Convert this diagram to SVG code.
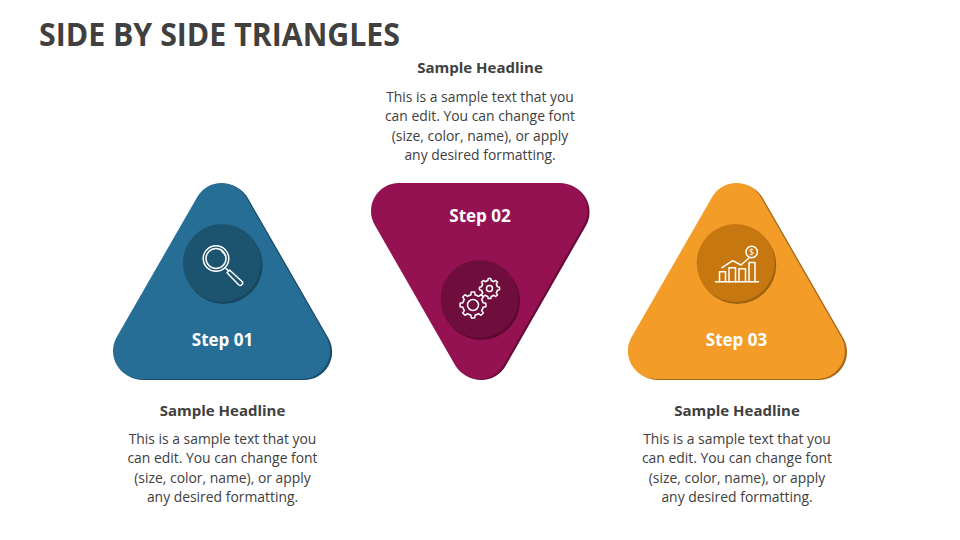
<svg xmlns="http://www.w3.org/2000/svg" xmlns:xlink="http://www.w3.org/1999/xlink" width="960" height="540" viewBox="0 0 960 540">
<style>
text{font-family:"Open Sans","Liberation Sans",sans-serif;text-anchor:middle;fill:#404040}
.title{font-size:32px;font-weight:700;text-anchor:start}
.head{font-size:15px;font-weight:700}
.body{font-size:13.9px}
.step{font-size:17px;font-weight:700;fill:#fff}
.ic{fill:none;stroke:#fff;stroke-width:1.5;stroke-linejoin:round;stroke-linecap:round}
</style>
<defs>
<path id="up" d="M-80.500,379A28,28 0 0 1 -104.750,337L-24.250,197A28,28 0 0 1 24.250,197L104.750,337A28,28 0 0 1 80.500,379Z"/>
<path id="down" d="M-80.250,183A28,28 0 0 0 -104.500,225L-24.250,365A28,28 0 0 0 24.250,365L104.500,225A28,28 0 0 0 80.250,183Z"/>
<path id="tooth" d="M-3.94,-9.52L-2.14,-10.07L-1.7,-12.89L1.7,-12.89L2.14,-10.07L3.94,-9.52"/>
<g id="gear">
<use xlink:href="#tooth"/>
<use xlink:href="#tooth" transform="rotate(45)"/>
<use xlink:href="#tooth" transform="rotate(90)"/>
<use xlink:href="#tooth" transform="rotate(135)"/>
<use xlink:href="#tooth" transform="rotate(180)"/>
<use xlink:href="#tooth" transform="rotate(225)"/>
<use xlink:href="#tooth" transform="rotate(270)"/>
<use xlink:href="#tooth" transform="rotate(315)"/>
</g>
</defs>
<text class="title" x="39" y="46" textLength="361" lengthAdjust="spacingAndGlyphs">SIDE BY SIDE TRIANGLES</text>

<g id="step1">
<use xlink:href="#up" x="223.600" y="1" fill="#1a4d6a"/>
<use xlink:href="#up" x="221.500" fill="#276e97"/>
<circle cx="223.500" cy="265" r="39" fill="#174660"/>
<circle cx="222" cy="263" r="39" fill="#1c5470"/>
<g class="ic">
<circle cx="216" cy="258.500" r="12.800"/>
<circle cx="216" cy="258.500" r="10"/>
<path d="M222,251.500A8,8 0 0 1 225.500,256"/>
<path d="M225.500,268L228.500,271M229.500,270L241.800,281.200A2.400,2.400 0 0 1 238.600,284.800L227,272.800Z"/>
</g>
<text class="step" x="222.500" y="345.500">Step 01</text>
</g>

<g id="step2">
<use xlink:href="#down" x="481.300" y="1" fill="#6a0c3a"/>
<use xlink:href="#down" x="479.250" fill="#941251"/>
<circle cx="481" cy="301" r="39" fill="#5a0a31"/>
<circle cx="479.500" cy="299" r="39" fill="#6f0d3d"/>
<g class="ic">
<use xlink:href="#gear" transform="translate(473,305)"/>
<circle cx="473" cy="305" r="5.500"/>
<use xlink:href="#gear" transform="translate(489.500,288.500) scale(.78)" style="stroke-width:1.9"/>
<circle cx="489.500" cy="288.500" r="3"/>
</g>
<text class="step" x="480" y="222">Step 02</text>
</g>

<g id="step3">
<use xlink:href="#up" x="738.500" y="1" fill="#a5691a"/>
<use xlink:href="#up" x="736.400" fill="#f39c28"/>
<circle cx="737.200" cy="265" r="39" fill="#9d6210"/>
<circle cx="735.700" cy="263" r="39" fill="#c7770f"/>
<g class="ic">
<path d="M715.500,281.800H758.500"/>
<path d="M719.500,281.800V271.800H725.500V281.800M729,281.800V267.800H735.500V281.800M739,281.800V268.800H745.500V281.800M749,281.800V262.500H755V281.800"/>
<path d="M722,267.700L732.700,260.700L741,265L748.700,258.300"/>
<circle cx="751.700" cy="252" r="5.700"/>
</g>
<text x="751.700" y="255" style="font-size:8.500px;fill:#fff">$</text>
<text class="step" x="736.500" y="345.500">Step 03</text>
</g>

<g id="text1">
<text class="head" x="222.500" y="415.500">Sample Headline</text>
<text class="body" x="222.500" y="444">This is a sample text that you</text>
<text class="body" x="222.500" y="463.300">can edit. You can change font</text>
<text class="body" x="222.500" y="482.600">(size, color, name), or apply</text>
<text class="body" x="222.500" y="502">any desired formatting.</text>
</g>
<g id="text2">
<text class="head" x="480" y="73">Sample Headline</text>
<text class="body" x="480" y="102">This is a sample text that you</text>
<text class="body" x="480" y="121.300">can edit. You can change font</text>
<text class="body" x="480" y="140.600">(size, color, name), or apply</text>
<text class="body" x="480" y="160">any desired formatting.</text>
</g>
<g id="text3">
<text class="head" x="737" y="415.500">Sample Headline</text>
<text class="body" x="737" y="444">This is a sample text that you</text>
<text class="body" x="737" y="463.300">can edit. You can change font</text>
<text class="body" x="737" y="482.600">(size, color, name), or apply</text>
<text class="body" x="737" y="502">any desired formatting.</text>
</g>
</svg>
